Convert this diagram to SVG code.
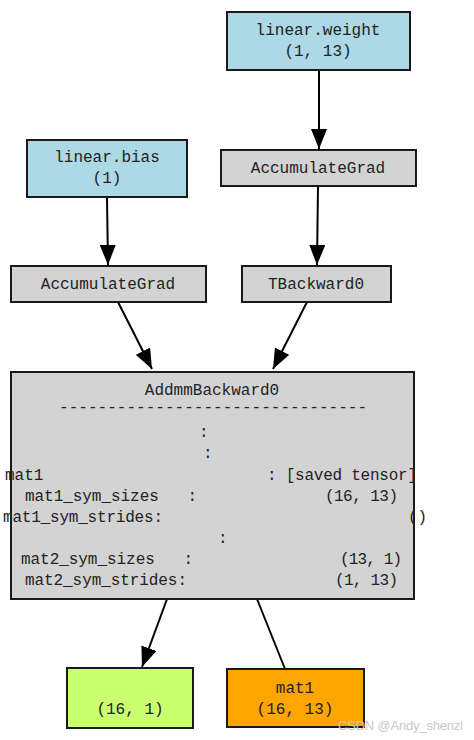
<svg xmlns="http://www.w3.org/2000/svg" width="474" height="740" viewBox="0 0 474 740">
<style>
.n{stroke:#1a1a1a;stroke-width:2}
.blue{fill:#add8e6}
.gray{fill:#d3d3d3}
.green{fill:#caff70}
.orange{fill:#ffa500}
text{font-family:"Liberation Mono","DejaVu Sans Mono",monospace;font-size:16px;fill:#222;white-space:pre}
.c{text-anchor:middle}
.e{stroke:#000;stroke-width:2;fill:none}
.wm{font-family:"Liberation Sans",Arial,sans-serif;font-size:13px;fill:#c8c8c8}
</style>
<defs>
<marker id="ah" markerUnits="userSpaceOnUse" markerWidth="22" markerHeight="16" refX="20" refY="8" orient="auto">
<path d="M0,0 L20,8 L0,16 z" fill="#000"/>
</marker>
</defs>
<rect width="474" height="740" fill="#fff"/>
<g id="edges">
<line class="e" x1="319" y1="70" x2="319" y2="149" marker-end="url(#ah)"/>
<line class="e" x1="318" y1="186" x2="317" y2="265" marker-end="url(#ah)"/>
<line class="e" x1="107" y1="197" x2="108" y2="265" marker-end="url(#ah)"/>
<line class="e" x1="118" y1="302" x2="152" y2="369" marker-end="url(#ah)"/>
<line class="e" x1="307" y1="302" x2="273" y2="369" marker-end="url(#ah)"/>
<line class="e" x1="167" y1="599" x2="142" y2="667" marker-end="url(#ah)"/>
<line class="e" x1="285" y1="669" x2="257" y2="599"/>
</g>
<g id="linear_weight">
<rect class="n blue" x="227" y="12" width="183" height="58"/>
<text class="c" x="318" y="35">linear.weight</text>
<text class="c" x="318" y="56">(1, 13)</text>
</g>
<g id="linear_bias">
<rect class="n blue" x="27" y="140" width="160" height="57"/>
<text class="c" x="107" y="162">linear.bias</text>
<text class="c" x="107" y="183">(1)</text>
</g>
<g id="accgrad_right">
<rect class="n gray" x="221" y="150" width="195" height="36"/>
<text class="c" x="318" y="173">AccumulateGrad</text>
</g>
<g id="accgrad_left">
<rect class="n gray" x="11" y="266" width="195" height="36"/>
<text class="c" x="108" y="289">AccumulateGrad</text>
</g>
<g id="tbackward">
<rect class="n gray" x="242" y="266" width="149" height="36"/>
<text class="c" x="316" y="289">TBackward0</text>
</g>
<g id="addmm">
<rect class="n gray" x="11" y="372" width="403" height="227"/>
<text class="c" x="212" y="395">AddmmBackward0</text>
<text x="59" y="412" textLength="308">--------------------------------</text>
<text x="199" y="437">:</text>
<text x="203" y="458">:</text>
<text x="5" y="480">mat1</text>
<text x="267" y="480" textLength="150" xml:space="preserve">: [saved tensor]</text>
<text x="25" y="501" textLength="172" xml:space="preserve">mat1_sym_sizes   :</text>
<text x="325" y="501" textLength="73" xml:space="preserve">(16, 13)</text>
<text x="3" y="522" textLength="160">mat1_sym_strides:</text>
<text x="408" y="522">()</text>
<text x="218" y="543">:</text>
<text x="21" y="564" textLength="172" xml:space="preserve">mat2_sym_sizes   :</text>
<text x="340" y="564" textLength="62" xml:space="preserve">(13, 1)</text>
<text x="25" y="585" textLength="162">mat2_sym_strides:</text>
<text x="335" y="585" textLength="63" xml:space="preserve">(1, 13)</text>
</g>
<g id="output">
<rect class="n green" x="67" y="668" width="126" height="60"/>
<text class="c" x="130" y="714">(16, 1)</text>
</g>
<g id="mat1">
<rect class="n orange" x="227" y="669" width="137" height="58"/>
<text class="c" x="295" y="693">mat1</text>
<text class="c" x="295" y="714">(16, 13)</text>
</g>
<text class="wm" x="338" y="730" textLength="125">CSDN @Andy_shenzl</text>
</svg>
